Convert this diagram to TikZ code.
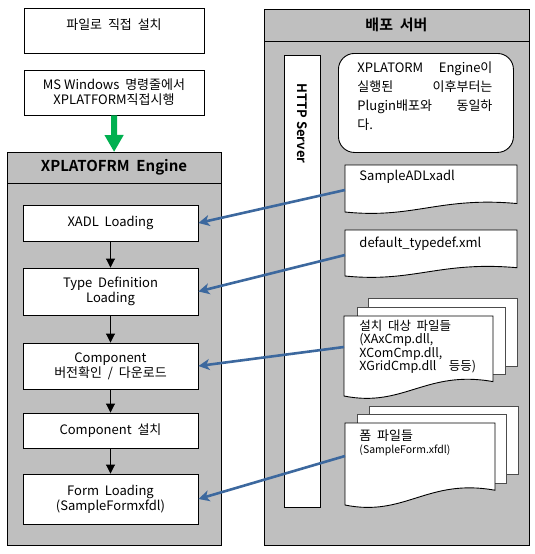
\documentclass[tikz,border=0pt]{standalone}
\usepackage{fontspec}
\setmainfont{Noto Sans CJK KR}[BoldFont={Noto Sans CJK KR Bold}]
\usetikzlibrary{arrows.meta}

\definecolor{panelgray}{HTML}{BFBFBF}
\definecolor{fetchblue}{HTML}{3C689E}
\definecolor{pushgreen}{HTML}{00B050}

\tikzset{
  box/.style={draw, fill=white, minimum width=175pt, align=center, inner sep=0pt},
  panel/.style={draw, fill=panelgray, anchor=north west, inner sep=0pt},
  sheet/.style={draw=black!70, fill=white},
  flow/.style={-{Triangle[width=9pt,length=9pt]}},
  fetch/.style={draw=fetchblue, line width=2.6pt, -{Stealth[width=11pt,length=11pt,inset=3pt]}},
  title/.style={font=\bfseries\fontsize{15}{17}\selectfont},
  doctext/.style={anchor=north west, inner sep=0pt, align=left},
}

% document sheet with a wavy bottom: x, y (top left), width, height
\newcommand{\wavydoc}[4]{%
  \draw[fill=white] (#1,#2) -- ++(#3,0) -- ++(0,0.82*#4)
    .. controls +(-0.45*#3,-0.15*#4) and +(0.4*#3,0.15*#4) .. (#1,#2+#4) -- cycle;}

\begin{document}
\begin{tikzpicture}[x=1pt, y=-1pt, line width=0.9pt, font=\fontsize{13}{15}\selectfont]
	\useasboundingbox (0,0) rectangle (535,554);

	% left: how the engine is started
	\node[box, minimum width=180pt, minimum height=45pt] (direct) at (114,30.5) {};
	\node (directtext) at (114,25) {파일로\ \ 직접\ \ 설치};
	\node[box, minimum width=180pt, minimum height=45pt] (cmdline) at (114,92.5) {MS Windows\ \ 명령줄에서\\XPLATFORM직접시행};

	\node[panel, minimum width=214pt, minimum height=393pt] (engine) at (7,152) {};
	\draw ([yshift=-31pt]engine.north west) -- ([yshift=-31pt]engine.north east);
	\node[title] (enginetitle) at (114,167.5) {XPLATOFRM\ \ Engine};
	\draw[line width=6pt, pushgreen, -{Triangle[width=18pt,length=17pt]}] (cmdline) -- (engine);

	\node[box, minimum height=36pt] (xadl) at (110.5,223) {XADL\ \ Loading};
	\node[box, minimum height=47pt] (typedef) at (110.5,291.5) {Type\ \ Definition\\Loading};
	\node[box, minimum height=46pt] (compver) at (110.5,366) {Component\\버전확인\ \ /\ \ 다운로드};
	\node[box, minimum height=35pt] (compinst) at (110.5,430.5) {Component\ \ 설치};
	\node[box, minimum height=50pt] (formload) at (110.5,499) {Form\ \ Loading\\(SampleFormxfdl)};
	\foreach \a/\b in {xadl/typedef, typedef/compver, compver/compinst, compinst/formload}
		\draw[flow] (\a) -- (\b);

	% right: the deploy server
	\node[panel, minimum width=265pt, minimum height=536pt] (server) at (264,9) {};
	\draw ([yshift=-32pt]server.north west) -- ([yshift=-32pt]server.north east);
	\node[title] (servertitle) at (396.5,25) {배포\ \ 서버};

	\node[box, minimum width=36pt, minimum height=452pt, anchor=north west] (http) at (284,55) {};
	\node[rotate=-90, anchor=west, inner sep=0pt, font=\bfseries\fontsize{13}{15}\selectfont] (httptext) at (302,83) {HTTP Server};

	\node[draw, fill=white, rounded corners=16pt, minimum width=175pt, minimum height=99pt, anchor=north west] (note) at (338,53) {};
	\node[doctext, font=\fontsize{13}{19}\selectfont] (notetext) at (357,61) {%
		\makebox[135pt][s]{XPLATORM Engine이}\\
		\makebox[135pt][s]{실행된 이후부터는}\\
		\makebox[135pt][s]{Plugin배포와 동일하}\\
		다.};

	\wavydoc{345}{165}{172}{47}
	\node[doctext] (adlname) at (359,170) {SampleADLxadl};
	\coordinate (adlport) at (345,190);

	\wavydoc{345}{230}{172}{46}
	\node[doctext] (tdfname) at (359,237) {default\_typedef.xml};
	\coordinate (tdfport) at (345,255);

	\draw[sheet] (368,298) rectangle (517,366);
	\draw[sheet] (357,307) rectangle (505,374);
	\wavydoc{344}{316}{149}{80}
	\node[doctext, font=\fontsize{12.5}{13.2}\selectfont] (dllnames) at (359,320) {설치\ \ 대상\ \ 파일들\\(XAxCmp.dll,\\XComCmp.dll,\\XGridCmp.dll\quad 등등)};
	\coordinate (dllport) at (344,347);

	\draw[sheet] (369,406) rectangle (518,474);
	\draw[sheet] (357,414) rectangle (506,483);
	\wavydoc{345}{423}{150}{82}
	\node[doctext, font=\fontsize{13}{13}\selectfont] (formnames) at (359,429) {폼\ \ 파일들\\{\fontsize{10.5}{12}\selectfont (SampleForm.xfdl)}};
	\coordinate (formport) at (345,456);

	\draw[fetch] (adlport) -- (xadl.east);
	\draw[fetch] (tdfport) -- (typedef.east);
	\draw[fetch] (dllport) -- (compver.east);
	\draw[fetch] (formport) -- (formload.east);
\end{tikzpicture}
\end{document}
